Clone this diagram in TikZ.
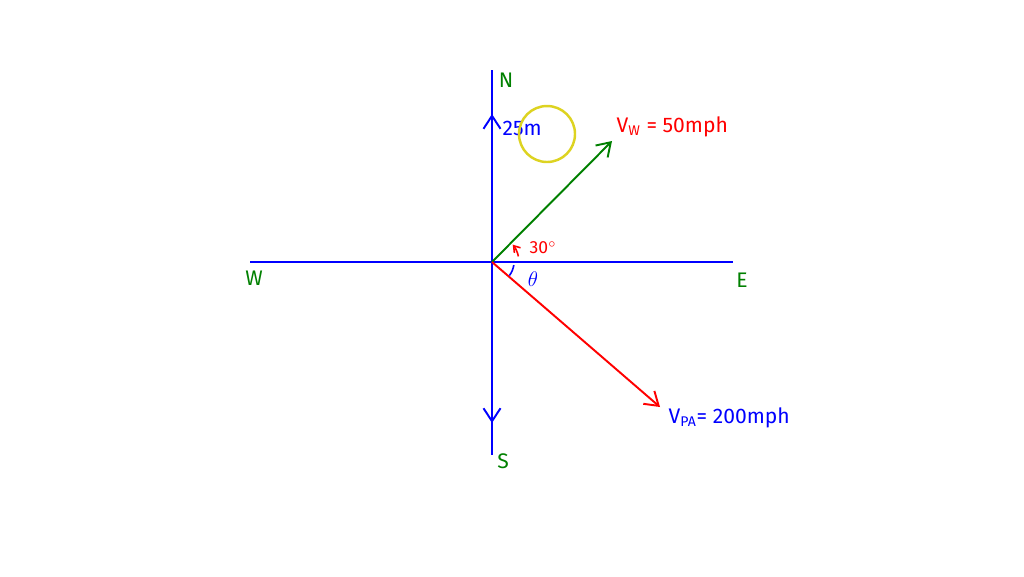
\documentclass[tikz,border=0pt]{standalone}
\usepackage{fontspec}
\setmainfont{Fira Sans}
\usetikzlibrary{arrows.meta}

\begin{document}
\begin{tikzpicture}[x=0.02cm, y=-0.02cm, line width=1.1pt,
		>={Straight Barb[length=2.6mm,width=3.4mm]},
		lbl/.style={font=\large, inner sep=1pt}]
		\useasboundingbox (0,0) rectangle (1024,576);
		\coordinate (O) at (492,262);
		\coordinate (w) at (250,262);
		\coordinate (e) at (733,262);
		\coordinate (n) at (492,70);
		\coordinate (s) at (492,455);
		\coordinate (nup) at (492,114);
		\coordinate (sdn) at (492,423);
		\coordinate (vw) at (612,141);
		\coordinate (vpa) at (660,407);
		
		\node[lbl, text=green!50!black] (N) at (506,80) {N};
		\node[lbl, text=green!50!black] (W) at (254,278) {W};
		\node[lbl, text=green!50!black] (E) at (742,280) {E};
		\node[lbl, text=green!50!black] (S) at (503,461) {S};
		
		\node[lbl, text=blue, anchor=west] (dist) at (500,128) {25m};
		\node[draw=yellow!85!black, line width=1.4pt, circle, minimum size=56*0.02cm] (ring) at (547,134) {};
		
		\node[lbl, text=red, anchor=west] (vwlab) at (614,127) {V\textsubscript{W} = 50mph};
		\node[lbl, text=blue, anchor=west] (vpalab) at (666,418) {V\textsubscript{PA}= 200mph};
		
		\node[lbl, text=red, font=\normalsize] (ang) at (543,248) {30$^\circ$};
		\node[lbl, text=blue] (th) at (533,279) {$\theta$};
		
		%========================================================================
		% Axes
		\draw[blue] (w) to (e);
		\draw[blue] (n) to (s);
		\draw[blue, ->] (O) to (nup);
		\draw[blue, ->] (O) to (sdn);
		
		%========================================================================
		% Vectors
		\draw[green!50!black, ->] (O) to (vw);
		\draw[red, ->] (O) to (vpa);
		
		%========================================================================
		% Angles
		\draw[red, line width=0.9pt, -{Straight Barb[length=1.2mm,width=1.6mm]}] (O) ++(-12:27) arc[start angle=-12, end angle=-40, radius=27];
		\draw[blue, line width=0.9pt] (O) ++(8:22) arc[start angle=8, end angle=38, radius=22];
	\end{tikzpicture}
\end{document}
